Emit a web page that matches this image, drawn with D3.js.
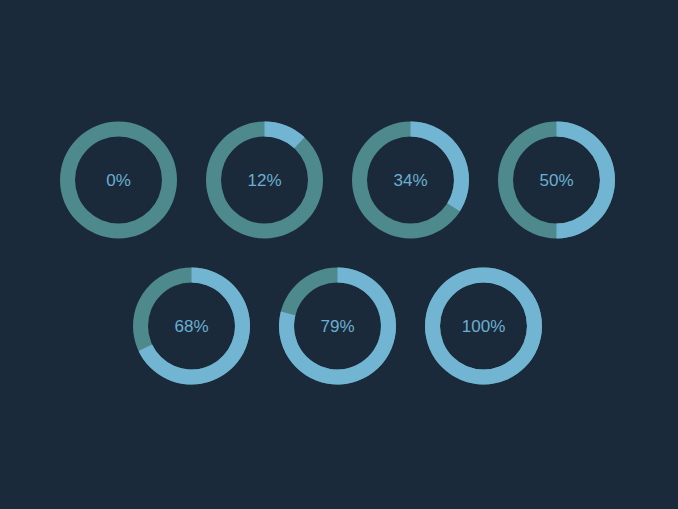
<!DOCTYPE html>
<html><head><meta charset="utf-8">
<script src="https://cdn.jsdelivr.net/npm/d3@7"></script>
<style>html,body{margin:0;padding:0;background:#1a2a3b;}svg{display:block;}</style>
</head><body>
<svg id="c" width="678" height="509"></svg>
<script>
const values = [0, 12, 34, 50, 68, 79, 100];
const labels = ["0%", "12%", "34%", "50%", "68%", "79%", "100%"];
const rows = [[0,1,2,3],[4,5,6]];

const W = 678, H = 509;
const svg = d3.select("#c");
svg.append("rect").attr("width", W).attr("height", H).attr("fill", "#1a2a3b");

const outerR = 58.5, innerR = 43.5;
const arc = d3.arc().innerRadius(innerR).outerRadius(outerR);
const angle = d3.scaleLinear().domain([0, 100]).range([0, 2 * Math.PI]);
const xScale = d3.scaleLinear().domain([0, 3]).range([118.5, 556.5]);
const yScale = d3.scaleLinear().domain([0, 1]).range([180, 326]);

rows.forEach((row, ri) => {
  const offset = (4 - row.length) / 2;
  row.forEach((idx, ci) => {
    const g = svg.append("g").attr("transform", `translate(${xScale(ci + offset)},${yScale(ri)})`);
    g.append("path").attr("d", arc({startAngle: 0, endAngle: 2 * Math.PI})).attr("fill", "#4e898e");
    if (values[idx] > 0) {
      g.append("path").attr("d", arc({startAngle: 0, endAngle: angle(values[idx])})).attr("fill", "#72b5d2");
    }
    g.append("text").attr("text-anchor", "middle").attr("dy", "0.35em")
      .attr("font-family", "Liberation Sans, Arial, sans-serif").attr("font-size", 17)
      .attr("fill", "#6aafd0").text(labels[idx]);
  });
});
</script>
</body></html>
